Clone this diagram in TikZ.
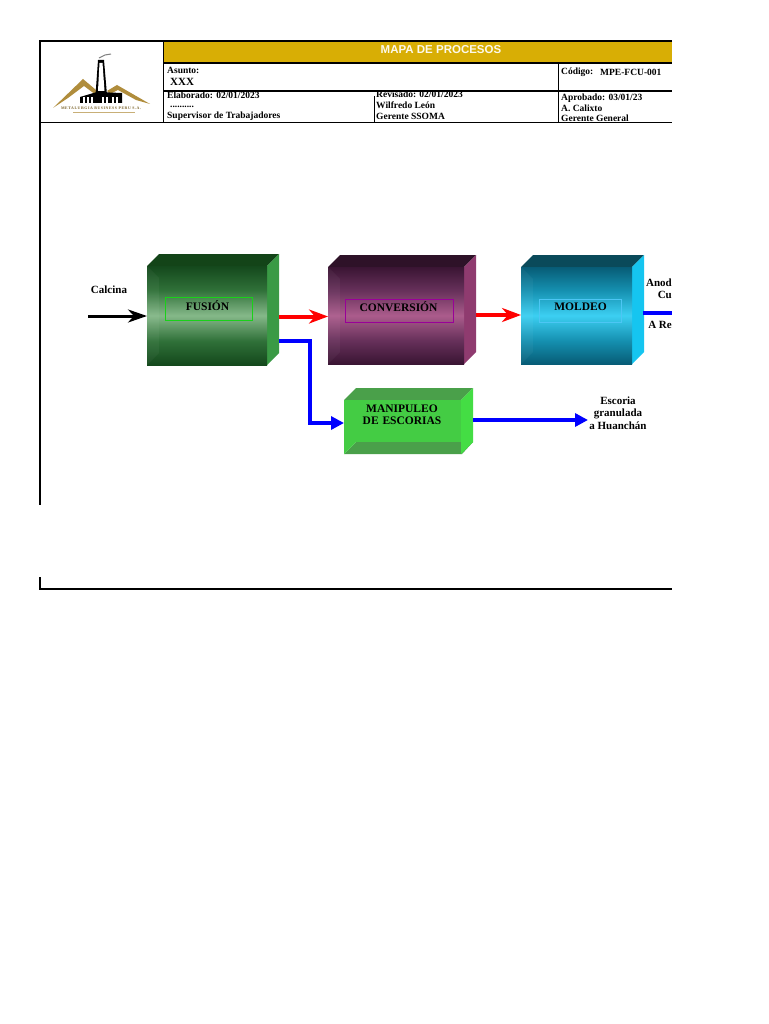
\documentclass[tikz,border=0pt]{standalone}
\usepackage{fontspec}
\setmainfont{Liberation Serif}
\newfontfamily\headfont{Liberation Sans}
\newfontfamily\logofont[LetterSpace=14]{Liberation Serif}
\usetikzlibrary{arrows.meta}
\definecolor{gold}{HTML}{D8AE05}
\definecolor{logogold}{HTML}{B08D3C}
\definecolor{futop}{HTML}{134418}\definecolor{fuside}{HTML}{3A9A45}\definecolor{fudark}{HTML}{14481C}\definecolor{fumed}{HTML}{2F7038}\definecolor{fumid}{HTML}{85B889}
\definecolor{cotop}{HTML}{2E1228}\definecolor{coside}{HTML}{8F3B6F}\definecolor{codark}{HTML}{3A1533}\definecolor{comed}{HTML}{66305A}\definecolor{comid}{HTML}{AB5C8C}
\definecolor{motop}{HTML}{0A4A5A}\definecolor{moside}{HTML}{15C5F0}\definecolor{modark}{HTML}{075C76}\definecolor{momed}{HTML}{1590B0}\definecolor{momid}{HTML}{3CCFF2}
\definecolor{mamain}{HTML}{44CC44}\definecolor{maband}{HTML}{4AA04A}\definecolor{maside}{HTML}{44DD44}
\pgfdeclareverticalshading{fushade}{100bp}{color(0bp)=(fudark); color(25bp)=(fudark); color(37bp)=(fumed); color(50bp)=(fumid); color(63bp)=(fumed); color(75bp)=(fudark); color(100bp)=(fudark)}
\pgfdeclareverticalshading{coshade}{100bp}{color(0bp)=(codark); color(25bp)=(codark); color(37bp)=(comed); color(50bp)=(comid); color(63bp)=(comed); color(75bp)=(codark); color(100bp)=(codark)}
\pgfdeclareverticalshading{moshade}{100bp}{color(0bp)=(modark); color(25bp)=(modark); color(37bp)=(momed); color(50bp)=(momid); color(63bp)=(momed); color(75bp)=(modark); color(100bp)=(modark)}
\tikzset{
  x=1pt,y=-1pt,
  frameline/.style={draw=black,line width=1.5pt},
  thinline/.style={draw=black,line width=1pt},
  cell/.style={font=\bfseries\fontsize{9.5}{10}\selectfont,anchor=west,inner sep=0pt,text=black},
  boxlabel/.style={font=\bfseries\fontsize{11.5}{12}\selectfont,align=center,inner sep=0pt,text=black},
  flowlabel/.style={font=\bfseries\fontsize{11}{12.5}\selectfont,align=center,inner sep=0pt,text=black},
  anchornode/.style={inner sep=0pt,outer sep=0pt,minimum width=#1,minimum height=99pt},
  labelrect/.style={draw=#1,line width=.8pt,inner sep=0pt,outer sep=0pt},
  flowblack/.style={draw=black,line width=3pt,-{Stealth[length=19pt,width=13pt,inset=6pt]}},
  flowred/.style={draw=red,line width=4pt,-{Stealth[length=19pt,width=14pt,inset=6pt]}},
  flowblue/.style={draw=blue,line width=4pt},
  flowbluetip/.style={flowblue,-{Triangle[length=13pt,width=13pt]}},
}
% x0 x1 ytopback ytop ybottom top side shading
\newcommand{\bigbox}[8]{%
  \fill[#6] (#1,#4) -- (#1+12,#3) -- (#2+12,#3) -- (#2,#4) -- cycle;
  \fill[#7] (#2,#4) -- (#2+12,#3) -- (#2+12,#5-12) -- (#2,#5) -- cycle;
  \shade[shading=#8] (#1,#4) rectangle (#2,#5);
  \fill[white,opacity=.04] (#1,#4) -- (#1+12,#4+12) -- (#1+12,#5-12) -- (#1,#5) -- cycle;
}
\begin{document}
\begin{tikzpicture}
\useasboundingbox (0,0) rectangle (768,1024);
\fill[white] (0,0) rectangle (768,1024);

% header band
\fill[gold] (164,42) rectangle (672,63);
\node[font=\headfont\bfseries\fontsize{11.5}{12}\selectfont,text=white!92!gold,inner sep=0pt] (title) at (441,49.5) {MAPA DE PROCESOS};

% frame
\draw[frameline] (672,41) -- (40,41) -- (40,505);
\draw[frameline] (40,577) -- (40,589) -- (672,589);
\draw[frameline] (40,122.5) -- (672,122.5);
\draw[frameline] (163.5,41) -- (163.5,122);
\draw[frameline] (164,63) -- (672,63);
\draw[frameline] (164,91) -- (672,91);
\draw[thinline] (558.5,63) -- (558.5,122);
\draw[thinline] (374.5,96) -- (374.5,122);

% logo
\fill[logogold] (53,108) -- (83,79) -- (96,90) -- (96,95) -- (84,86) -- (68,98) -- cycle;
\fill[logogold] (107,91) -- (117,85) -- (150,104) -- (136,100) -- (118,90) -- (110,94) -- cycle;
\fill[black] (98,60) -- (104,60) -- (107,95) -- (95.5,95) -- cycle;
\fill[white] (99.5,63) -- (102.5,63) -- (104.5,91) -- (98,91) -- cycle;
\draw[gray,line width=1pt] (99,58) -- (105,55) -- (111,54);
\fill[black] (80,103) -- (80,97) -- (97,92) -- (122,93) -- (122,103) -- cycle;
\foreach \wx in {83,87,91,102,106,112,116}{\fill[white] (\wx,97) rectangle (\wx+2,103);}
\node[font=\logofont\bfseries\fontsize{3.9}{4}\selectfont,text=logogold!70!black,inner sep=0pt] (logotext) at (101,108.5) {METALURGIA BUSINESS PERU S.A.};
\draw[logogold!70,line width=.7pt] (73,112) -- (135,112);

% header text
\node[cell] (asunto) at (167,70.5) {Asunto:};
\node[cell,font=\bfseries\fontsize{11}{11}\selectfont] (xxx) at (170,82) {XXX};
\node[cell] (elab) at (167,95.5) {Elaborado: 02/01/2023};
\node[cell] (dots) at (170,106.5) {..........};
\node[cell] (sup) at (167,116.5) {Supervisor de Trabajadores};
\node[cell] (rev) at (376,94.5) {Revisado: 02/01/2023};
\node[cell] (wil) at (376,105.5) {Wilfredo León};
\node[cell] (ger) at (376,116) {Gerente SSOMA};
\node[cell] (cod) at (561,72) {Código:};
\node[cell] (mpe) at (600,72) {MPE-FCU-001};
\node[cell] (apr) at (561,98) {Aprobado: 03/01/23};
\node[cell] (cal) at (561,108) {A. Calixto};
\node[cell] (gg) at (561,118) {Gerente General};

% process boxes
\bigbox{147}{267}{254}{266}{365}{futop}{fuside}{fushade}
\bigbox{328}{464}{255}{267}{364}{cotop}{coside}{coshade}
\bigbox{521}{632}{255}{267}{364}{motop}{moside}{moshade}
\node[anchornode=120pt] (fusion) at (207,316) {};
\node[anchornode=136pt] (conv) at (396,316) {};
\node[anchornode=111pt] (moldeo) at (576.5,316) {};
\coordinate (fusionout) at (279,316.5);
\coordinate (fusionlow) at (279,341);
\coordinate (convout) at (476,315);
\coordinate (moldout) at (643,313);

\node[labelrect=green!80!black!90!white,minimum width=87pt,minimum height=23pt] (fusrect) at (208.5,308.5) {};
\node[labelrect=violet!80!magenta,minimum width=108pt,minimum height=23pt] (convrect) at (399,310.5) {};
\node[labelrect=cyan!70!white,minimum width=82pt,minimum height=23pt] (moldrect) at (580,310.5) {};
\node[boxlabel] (fustext) at (207.5,305.5) {FUSIÓN};
\node[boxlabel] (convtext) at (398.5,306.5) {CONVERSIÓN};
\node[boxlabel] (moldtext) at (580.5,306.5) {MOLDEO};

% slag box
\fill[maband] (356,388) -- (473,388) -- (461,400) -- (344,400) -- cycle;
\fill[maband] (344,454) -- (462,454) -- (473,442) -- (356,442) -- cycle;
\fill[mamain] (344,400) -- (356,400) -- (356,442) -- (344,454) -- cycle;
\fill[maside] (461,400) -- (473,388) -- (473,442) -- (461,454) -- cycle;
\fill[mamain] (356,400) rectangle (461,442);
\node[anchornode=129pt,minimum height=66pt] (manip) at (408.5,421) {};
\node[boxlabel,text width=90pt] (maniptext) at (402,415) {MANIPULEO\\DE ESCORIAS};

% connectors
\coordinate (calstart) at (88,316);
\coordinate (fusionin) at (147,316);
\draw[flowblack] (calstart) -- (fusionin);
\draw[flowred] (fusionout) -- (conv.west |- fusionout);
\draw[flowred] (convout) -- (moldeo.west |- convout);
\draw[flowbluetip] (fusionlow) -| (310,423) -- (manip.west |- 0,423);
\coordinate (escoriatip) at (588,420);
\draw[flowbluetip] (manip.east |- escoriatip) -- (escoriatip);
\coordinate (moldend) at (672,313);
\draw[flowblue] (moldout) -- (moldend);

% flow labels
\node[flowlabel] (calcina) at (109,290) {Calcina};
\node[flowlabel,anchor=east] (anod) at (672,283) {Anod};
\node[flowlabel,anchor=east] (cu) at (672,295) {Cu};
\node[flowlabel,anchor=east] (are) at (672,325) {A Re};
\node[flowlabel] (escoria) at (618,413) {Escoria\\granulada\\a Huanchán};
\end{tikzpicture}
\end{document}
